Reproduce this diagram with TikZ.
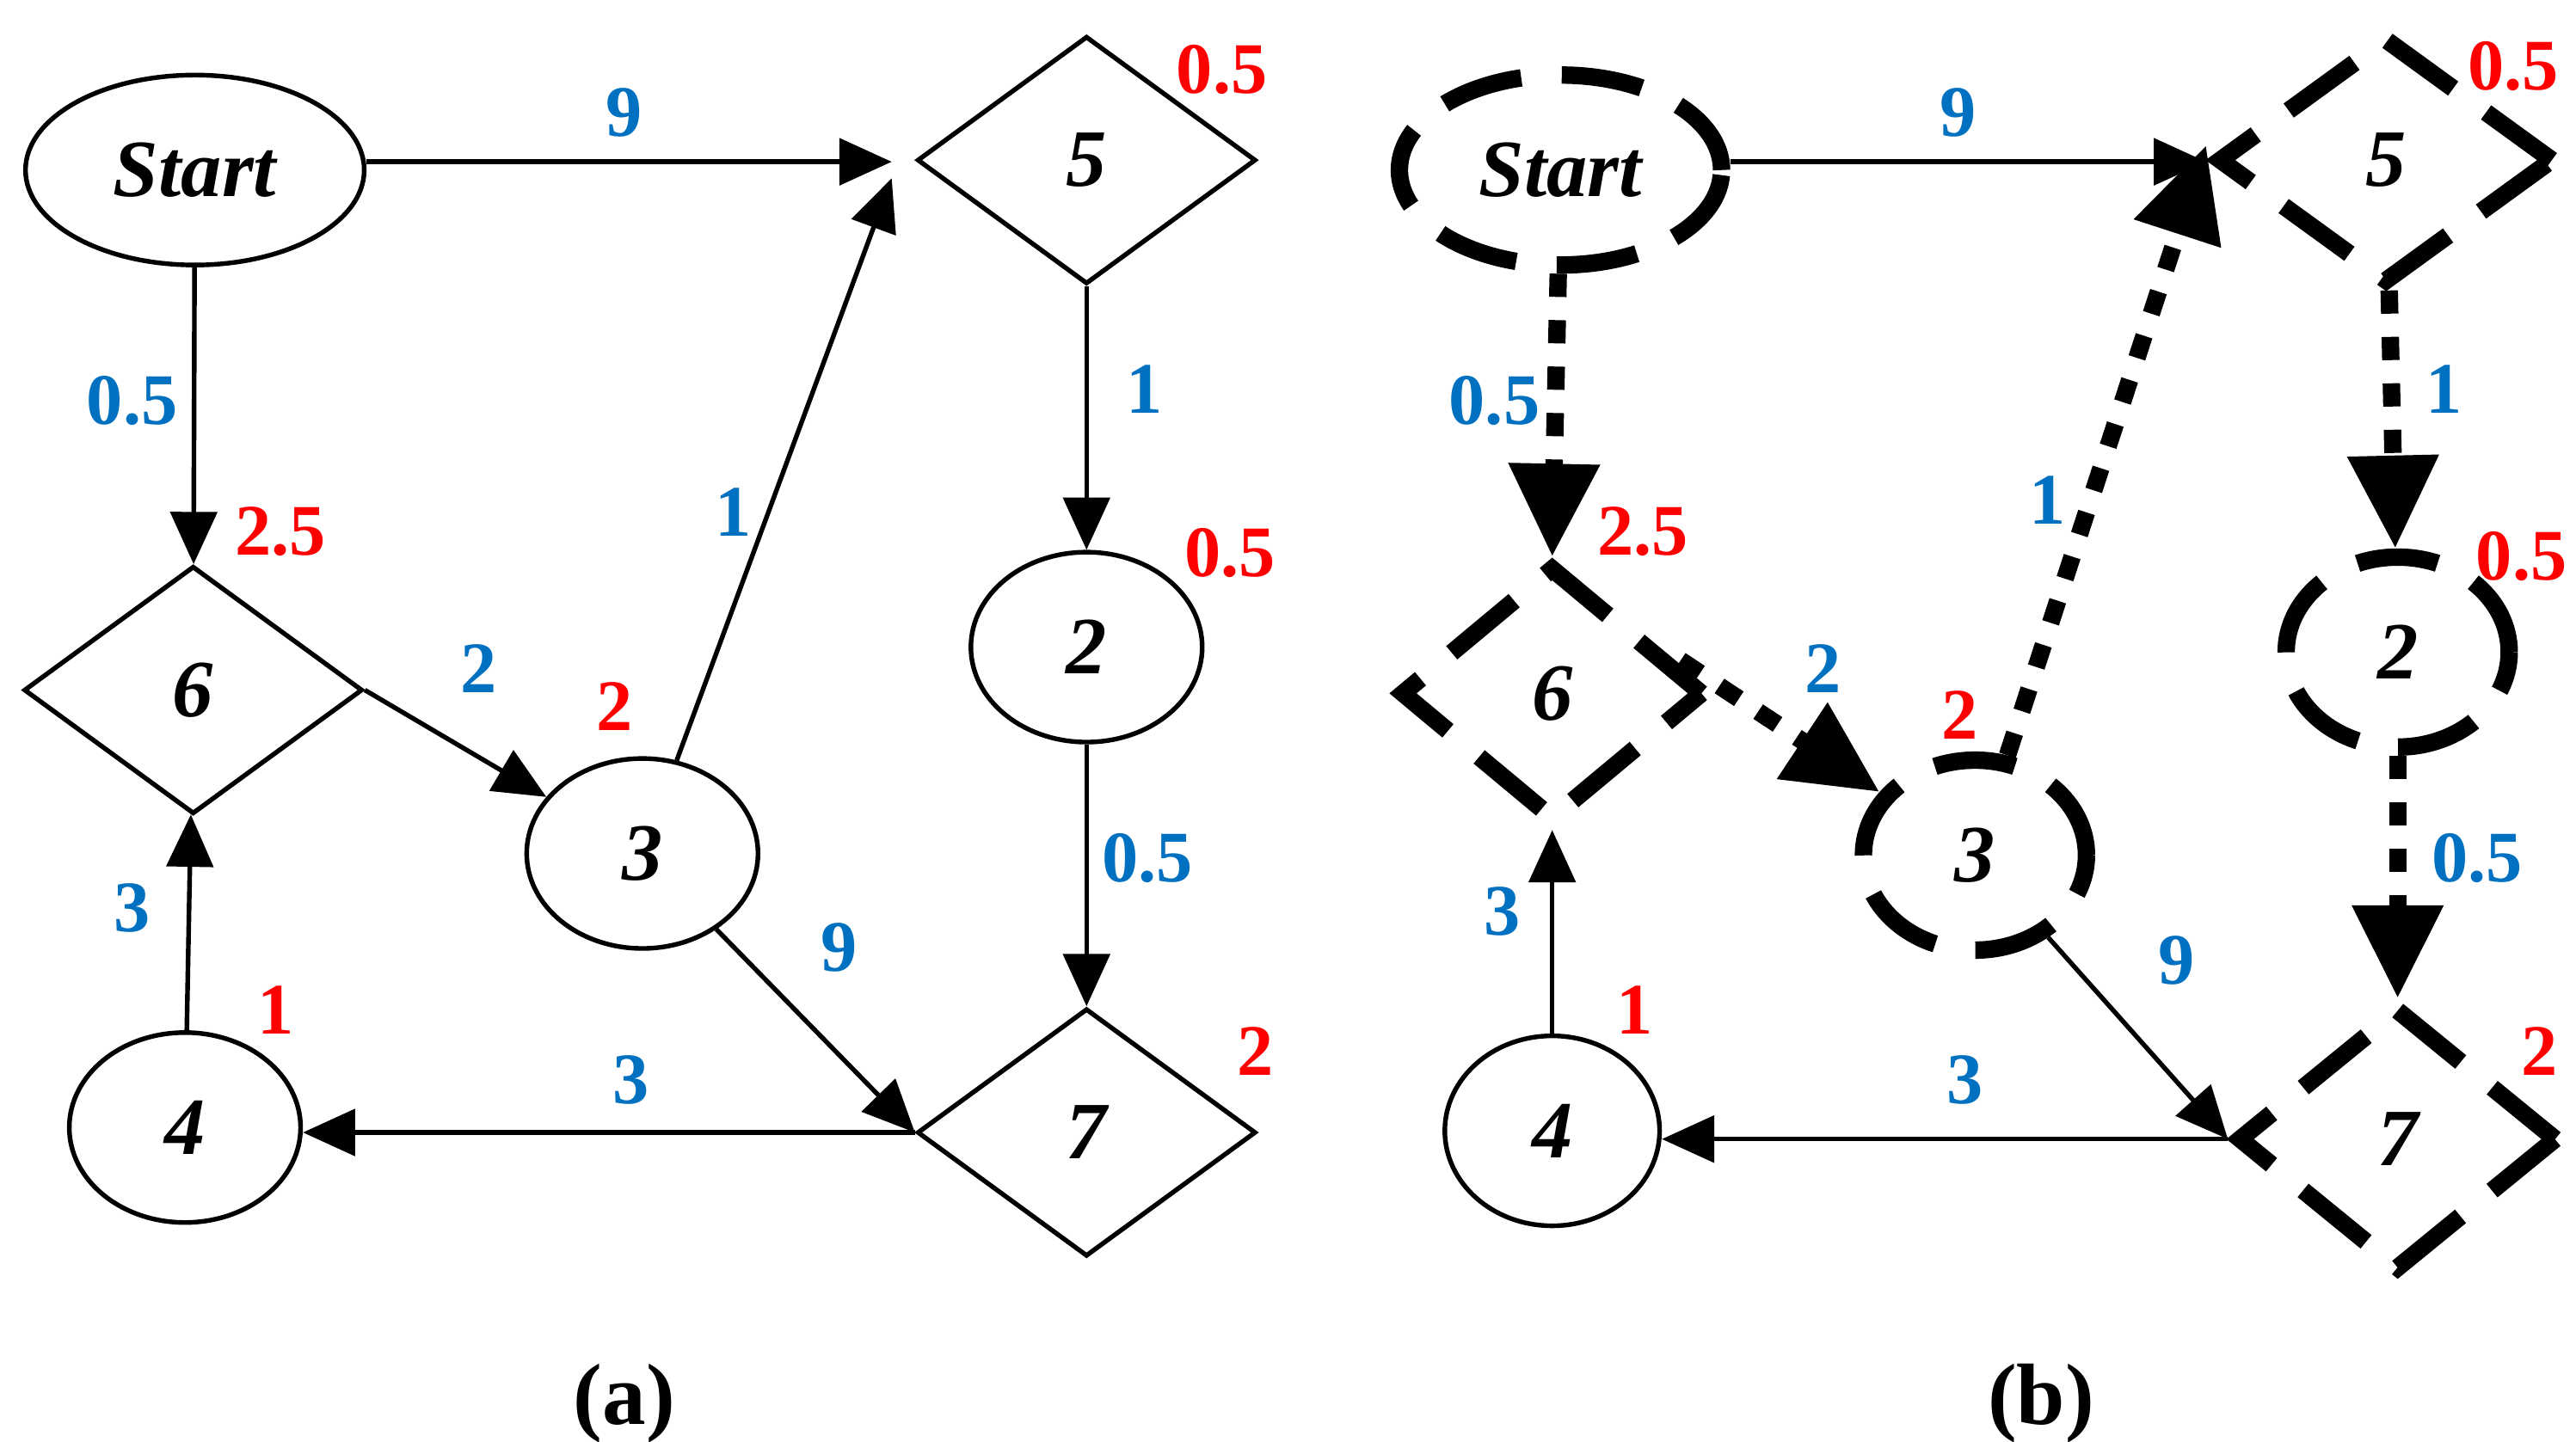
\documentclass[tikz,border=0pt]{standalone}
\usepackage{fontspec}
\setmainfont{Liberation Serif}
\usetikzlibrary{shapes.geometric,arrows.meta}
\definecolor{wblue}{RGB}{0,112,192}
\begin{document}
\begin{tikzpicture}[x=0.01cm,y=-0.01cm,thick,>={Triangle[length=9pt,width=8pt]}]
	% `oval' and `dia' are the plain nodes, `heavy' makes them heavy dashed.
	\tikzstyle{oval} = [draw,ellipse,inner sep=0pt,font=\fontsize{14}{16}\selectfont\bfseries\itshape]
	\tikzstyle{dia} = [draw,diamond,inner sep=0pt,minimum width=2.05cm,minimum height=1.5cm,font=\fontsize{14}{16}\selectfont\bfseries\itshape]
	\tikzstyle{heavy} = [line width=3pt,dash pattern=on 14pt off 7pt]
	\tikzstyle{dots} = [line width=3pt,dash pattern=on 4pt off 4pt,>={Triangle[length=16pt,width=15pt]}]
	\tikzstyle{w} = [text=wblue,font=\fontsize{12.5}{15}\selectfont\bfseries]
	\tikzstyle{t} = [text=red,font=\fontsize{12.5}{15}\selectfont\bfseries]
	\useasboundingbox (0,0) rectangle (1560,873);
	%
	% (a)
	\node[oval,minimum width=2.05cm,minimum height=1.15cm] (sa) at (118,103) {Start};
	\node[dia] (a5) at (658,97) {5};
	\node[dia] (a6) at (117,418) {6};
	\node[oval,minimum width=1.4cm,minimum height=1.15cm] (a2) at (658,392) {2};
	\node[oval,minimum width=1.4cm,minimum height=1.15cm] (a3) at (389,517) {3};
	\node[oval,minimum width=1.4cm,minimum height=1.15cm] (a4) at (112,683) {4};
	\node[dia] (a7) at (658,686) {7};
	\coordinate (a5in) at (540,98);
	\draw[->] (sa.east |- a5in) -- (a5in);
	\draw[->] (sa) -- (a6);
	\draw[->] (a6.east) -- (a3);
	\draw[->] (a3) -- ([yshift=-1mm]a5in);
	\draw[->] (a5) -- (a2);
	\draw[->] (a2) -- (a7);
	\draw[->] (a3) -- (a7.west);
	\draw[->] (a7.west) -- (a4.east |- a7.west);
	\draw[->] (a4) -- (a6);
	\node[w] (la1) at (378,68) {9};
	\node[w] (la2) at (80,243) {0.5};
	\node[w] (la3) at (290,405) {2};
	\node[w] (la4) at (444,310) {1};
	\node[w] (la5) at (693,236) {1};
	\node[w] (la6) at (695,520) {0.5};
	\node[w] (la7) at (508,574) {9};
	\node[w] (la8) at (382,654) {3};
	\node[w] (la9) at (80,550) {3};
	\node[t] (ta1) at (170,322) {2.5};
	\node[t] (ta2) at (740,42) {0.5};
	\node[t] (ta3) at (745,335) {0.5};
	\node[t] (ta4) at (372,428) {2};
	\node[t] (ta5) at (167,612) {1};
	\node[t] (ta6) at (760,637) {2};
	\node[font=\fontsize{15}{17}\selectfont\bfseries] (capa) at (378,850) {(a)};
	%
	% (b)
	\node[oval,heavy,minimum width=1.95cm,minimum height=1.15cm] (sb) at (945,103) {Start};
	\node[dia,heavy] (b5) at (1445,97) {5};
	\node[dia,heavy,minimum width=1.85cm,minimum height=1.55cm] (b6) at (940,420) {6};
	\node[oval,heavy,minimum width=1.35cm,minimum height=1.15cm] (b2) at (1452,395) {2};
	\node[oval,heavy,minimum width=1.35cm,minimum height=1.15cm] (b3) at (1196,518) {3};
	\node[oval,minimum width=1.3cm,minimum height=1.15cm] (b4) at (940,685) {4};
	\node[dia,heavy,minimum width=1.95cm,minimum height=1.6cm] (b7) at (1452,690) {7};
	\coordinate (b5in) at (1336,98);
	\draw[->] (sb.east |- b5in) -- (b5in);
	\draw[dots,->] (sb) -- (b6.north);
	\draw[dots,->] ([xshift=-2mm,yshift=2mm]b6.east) -- (b3);
	\draw[dots,->] (b3) -- ([yshift=1mm]b5in);
	\draw[dots,->] (b5) -- (b2);
	\draw[dots,->] (b2) -- (b7.north);
	\draw[->] (b3) -- (b7.west);
	\draw[->] (b7.west) -- (b4.east |- b7.west);
	\draw[->] (b4) -- (b6.south);
	\node[w] (lb1) at (1186,68) {9};
	\node[w] (lb2) at (905,243) {0.5};
	\node[w] (lb3) at (1104,405) {2};
	\node[w] (lb4) at (1240,303) {1};
	\node[w] (lb5) at (1480,236) {1};
	\node[w] (lb6) at (1500,520) {0.5};
	\node[w] (lb7) at (1318,582) {9};
	\node[w] (lb8) at (1190,654) {3};
	\node[w] (lb9) at (910,552) {3};
	\node[t] (tb1) at (995,322) {2.5};
	\node[t] (tb2) at (1522,40) {0.5};
	\node[t] (tb3) at (1527,337) {0.5};
	\node[t] (tb4) at (1187,433) {2};
	\node[t] (tb5) at (990,612) {1};
	\node[t] (tb6) at (1538,637) {2};
	\node[font=\fontsize{15}{17}\selectfont\bfseries] (capb) at (1236,850) {(b)};
\end{tikzpicture}
\end{document}
